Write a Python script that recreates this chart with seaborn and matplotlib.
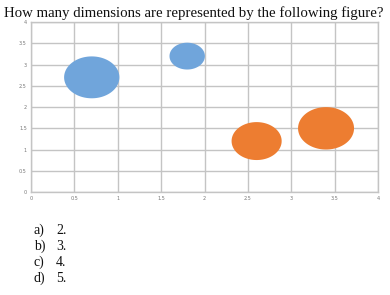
import numpy as np
import pandas as pd
import matplotlib
matplotlib.use("Agg")
import matplotlib.pyplot as plt
from matplotlib.path import Path
import seaborn as sns

# Data
series = ["blue", "blue", "orange", "orange"]
x_vals = [0.70, 1.80, 2.60, 3.40]
y_vals = [2.70, 3.20, 1.20, 1.50]
bubble = [3.9, 1.6, 3.2, 4.0]

tick_vals = [0, 0.5, 1, 1.5, 2, 2.5, 3, 3.5, 4]
tick_labels = ["0", "0.5", "1", "1.5", "2", "2.5", "3", "3.5", "4"]

title = "How many dimensions are represented by the following figure?"
option_letters = ["a)", "b)", "c)", "d)"]
option_texts = ["2.", "3.", "4.", "5."]

df = pd.DataFrame({"x": x_vals, "y": y_vals, "size": bubble, "series": series})

sns.set_style("white")
fig = plt.figure(figsize=(3.9, 2.95), dpi=100)
ax = fig.add_axes([0.0795, 0.349, 0.890, 0.576])

# ellipse marker (chart was horizontally stretched)
t = np.linspace(0, 2 * np.pi, 100)
ell = Path(np.column_stack([1.32 * np.cos(t), np.sin(t)]), closed=True)

sns.scatterplot(data=df, x="x", y="y", size="size", hue="series",
                palette={"blue": "#70A5DB", "orange": "#ED7D31"},
                sizes=(0, 1626), size_norm=(0, 4.0), marker=ell,
                linewidth=0, alpha=1, legend=False, ax=ax, zorder=3)

ax.set_xlim(0, 4)
ax.set_ylim(0, 4)
ax.set_xticks(tick_vals)
ax.set_yticks(tick_vals)
ax.set_xticklabels(tick_labels)
ax.set_yticklabels(tick_labels)
ax.tick_params(axis="both", labelsize=3.5, labelcolor="#777777", length=0, pad=3)
ax.grid(True, color="#c4c4c4", linewidth=1.0)
ax.set_axisbelow(True)
for sp in ax.spines.values():
    sp.set_color("#c4c4c4")
    sp.set_linewidth(1.0)
ax.set_xlabel("")
ax.set_ylabel("")

fig.text(194 / 390, 1 - 17 / 295, title, ha="center", va="baseline",
         family="Liberation Serif", fontsize=10.7, color="#111111")

ys = [230, 246, 262, 278]
for letter, txt, yp in zip(option_letters, option_texts, ys):
    fig.text(34 / 390, 1 - yp / 295, letter, ha="left", va="center",
             family="Liberation Serif", fontsize=10, color="#111111")
    fig.text(56 / 390, 1 - yp / 295, txt, ha="left", va="center",
             family="Liberation Serif", fontsize=10, color="#111111")

fig.savefig("out.png", dpi=100)
